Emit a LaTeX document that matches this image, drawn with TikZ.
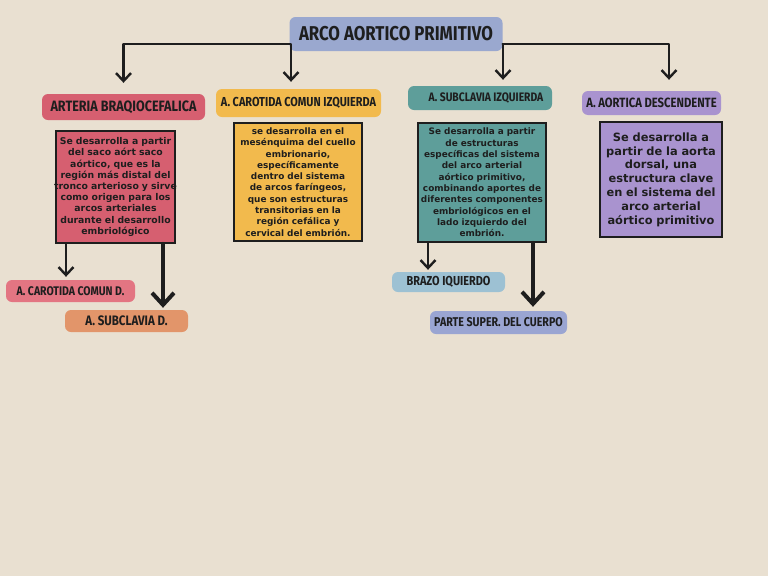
\documentclass[tikz,border=0pt]{standalone}
\usepackage{fontspec}
\newfontfamily\capsfont{Fira Sans}[FakeStretch=0.84]
\newfontfamily\bodyfont{DejaVu Sans}
\usetikzlibrary{arrows.meta,positioning}
\definecolor{paper}{HTML}{E9E0D1}
\definecolor{ink}{HTML}{1E1E1E}
\definecolor{cTitle}{HTML}{9AA8CF}
\definecolor{cRed}{HTML}{D65F70}
\definecolor{cYel}{HTML}{F2BA4D}
\definecolor{cTeal}{HTML}{5E9E9A}
\definecolor{cLav}{HTML}{A993CF}
\definecolor{cPink}{HTML}{E37582}
\definecolor{cOra}{HTML}{E2956A}
\definecolor{cSky}{HTML}{9DC1D3}
\definecolor{cPeri}{HTML}{9AA5D2}

\begin{document}
\begin{tikzpicture}[x=1pt,y=-1pt,
    arr/.style={-{Straight Barb[length=8pt,width=15pt]},line width=2.4pt,draw=ink,line cap=round,line join=round},
    arrB/.style={-{Straight Barb[length=12pt,width=22pt]},line width=4pt,draw=ink,line cap=round}]
  \tikzstyle{tag}=[rounded corners=6pt,inner sep=0pt,text=ink]
  \tikzstyle{card}=[draw=ink,line width=1.6pt,inner ysep=2pt,inner xsep=-4pt,align=center,text=ink]
  \useasboundingbox[fill=paper] (0,0) rectangle (768,576);

  % Title and headers
  \node[tag, fill=cTitle, minimum width=213pt, minimum height=34pt,
        font=\capsfont\bfseries\fontsize{20}{20}\selectfont] (tit) at (396,34) {ARCO AORTICO PRIMITIVO};
  \node[tag, fill=cRed, minimum width=163pt, minimum height=26pt,
        font=\capsfont\bfseries\fontsize{15}{15}\selectfont] (hdRed) at (123.5,107) {ARTERIA BRAQIOCEFALICA};
  \node[tag, fill=cYel, minimum width=165pt, minimum height=28pt,
        font=\capsfont\bfseries\fontsize{13}{13}\selectfont] (hdYel) at (298.5,103) {A. CAROTIDA COMUN IZQUIERDA};
  \node[tag, fill=cTeal, minimum width=144pt, minimum height=24pt,
        font=\capsfont\bfseries\fontsize{12.3}{12.3}\selectfont] (hdTeal) at (480,98) {\hspace{12pt}A. SUBCLAVIA IZQUIERDA};
  \node[tag, fill=cLav, minimum width=139pt, minimum height=24pt,
        font=\capsfont\bfseries\fontsize{13.4}{13.4}\selectfont] (hdLav) at (651.5,103) {A. AORTICA DESCENDENTE};

  % Description cards
  \node[card, fill=cRed, text width=127pt, minimum height=112pt,
        font=\bodyfont\bfseries\fontsize{9.3}{11.2}\selectfont]
        (cdRed) [below=10pt of hdRed, xshift=-8pt]
        {Se desarrolla a partir\\ del saco aórt saco\\ aórtico, que es la\\ región más distal del\\ tronco arterioso y sirve\\ como origen para los\\ arcos arteriales\\ durante el desarrollo\\ embriológico};
  \node[card, fill=cYel, text width=136pt, minimum height=118pt,
        font=\bodyfont\bfseries\fontsize{8.9}{11.3}\selectfont]
        (cdYel) [below=5pt of hdYel, xshift=-0.5pt]
        {se desarrolla en el\\ mesénquima del cuello\\ embrionario,\\ específicamente\\ dentro del sistema\\ de arcos faríngeos,\\ que son estructuras\\ transitorias en la\\ región cefálica y\\ cervical del embrión.};
  \node[card, fill=cTeal, text width=136pt, minimum height=119pt,
        font=\bodyfont\bfseries\fontsize{8.9}{11.3}\selectfont]
        (cdTeal) [below=12pt of hdTeal, xshift=2pt]
        {Se desarrolla a partir\\ de estructuras\\ específicas del sistema\\ del arco arterial\\ aórtico primitivo,\\ combinando aportes de\\ diferentes componentes\\ embriológicos en el\\ lado izquierdo del\\ embrión.};
  \node[card, fill=cLav, text width=130pt, minimum height=115pt,
        font=\bodyfont\bfseries\fontsize{11.4}{13.8}\selectfont]
        (cdLav) [below=6pt of hdLav, xshift=9.5pt]
        {Se desarrolla a\\ partir de la aorta\\ dorsal, una\\ estructura clave\\ en el sistema del\\ arco arterial\\ aórtico primitivo};

  % Branches
  \node[tag, fill=cPink, minimum width=129pt, minimum height=22pt,
        font=\capsfont\bfseries\fontsize{12.5}{12.5}\selectfont] (brCar) at (70.5,291) {A. CAROTIDA COMUN D.};
  \node[tag, fill=cOra, minimum width=123pt, minimum height=22pt,
        font=\capsfont\bfseries\fontsize{13.7}{13.7}\selectfont] (brSub) at (126.5,321) {A. SUBCLAVIA D.};
  \node[tag, fill=cSky, minimum width=113pt, minimum height=20pt,
        font=\capsfont\bfseries\fontsize{13}{13}\selectfont] (brArm) at (448.5,282) {BRAZO IQUIERDO\hspace{10pt}};
  \node[tag, fill=cPeri, minimum width=137pt, minimum height=23pt,
        font=\capsfont\bfseries\fontsize{12.7}{12.7}\selectfont] (brBody) at (498.5,322.5) {PARTE SUPER. DEL CUERPO};

  % Connectors
  \draw[arr, shorten >=11pt] ([yshift=-10pt]tit.west) -| (hdRed.north);
  \draw[arr, shorten >=7pt] ([yshift=-10pt]tit.west) -| ([xshift=-7.5pt]hdYel.north);
  \draw[arr, shorten >=6pt] ([yshift=-10pt]tit.east) -| ([xshift=23pt]hdTeal.north);
  \draw[arr, shorten >=11pt] ([yshift=-10pt]tit.east) -| ([xshift=17.5pt]hdLav.north);

  \draw[arr, shorten >=3pt] ([xshift=-4.5pt]brCar.north |- cdRed.south) -- ([xshift=-4.5pt]brCar.north);
  \draw[arrB, shorten >=2pt] ([xshift=36.5pt]brSub.north |- cdRed.south) -- ([xshift=36.5pt]brSub.north);
  \draw[arr, shorten >=2pt] ([xshift=-20.5pt]brArm.north |- cdTeal.south) -- ([xshift=-20.5pt]brArm.north);
  \draw[arrB, shorten >=4pt] ([xshift=34.5pt]brBody.north |- cdTeal.south) -- ([xshift=34.5pt]brBody.north);
\end{tikzpicture}
\end{document}
